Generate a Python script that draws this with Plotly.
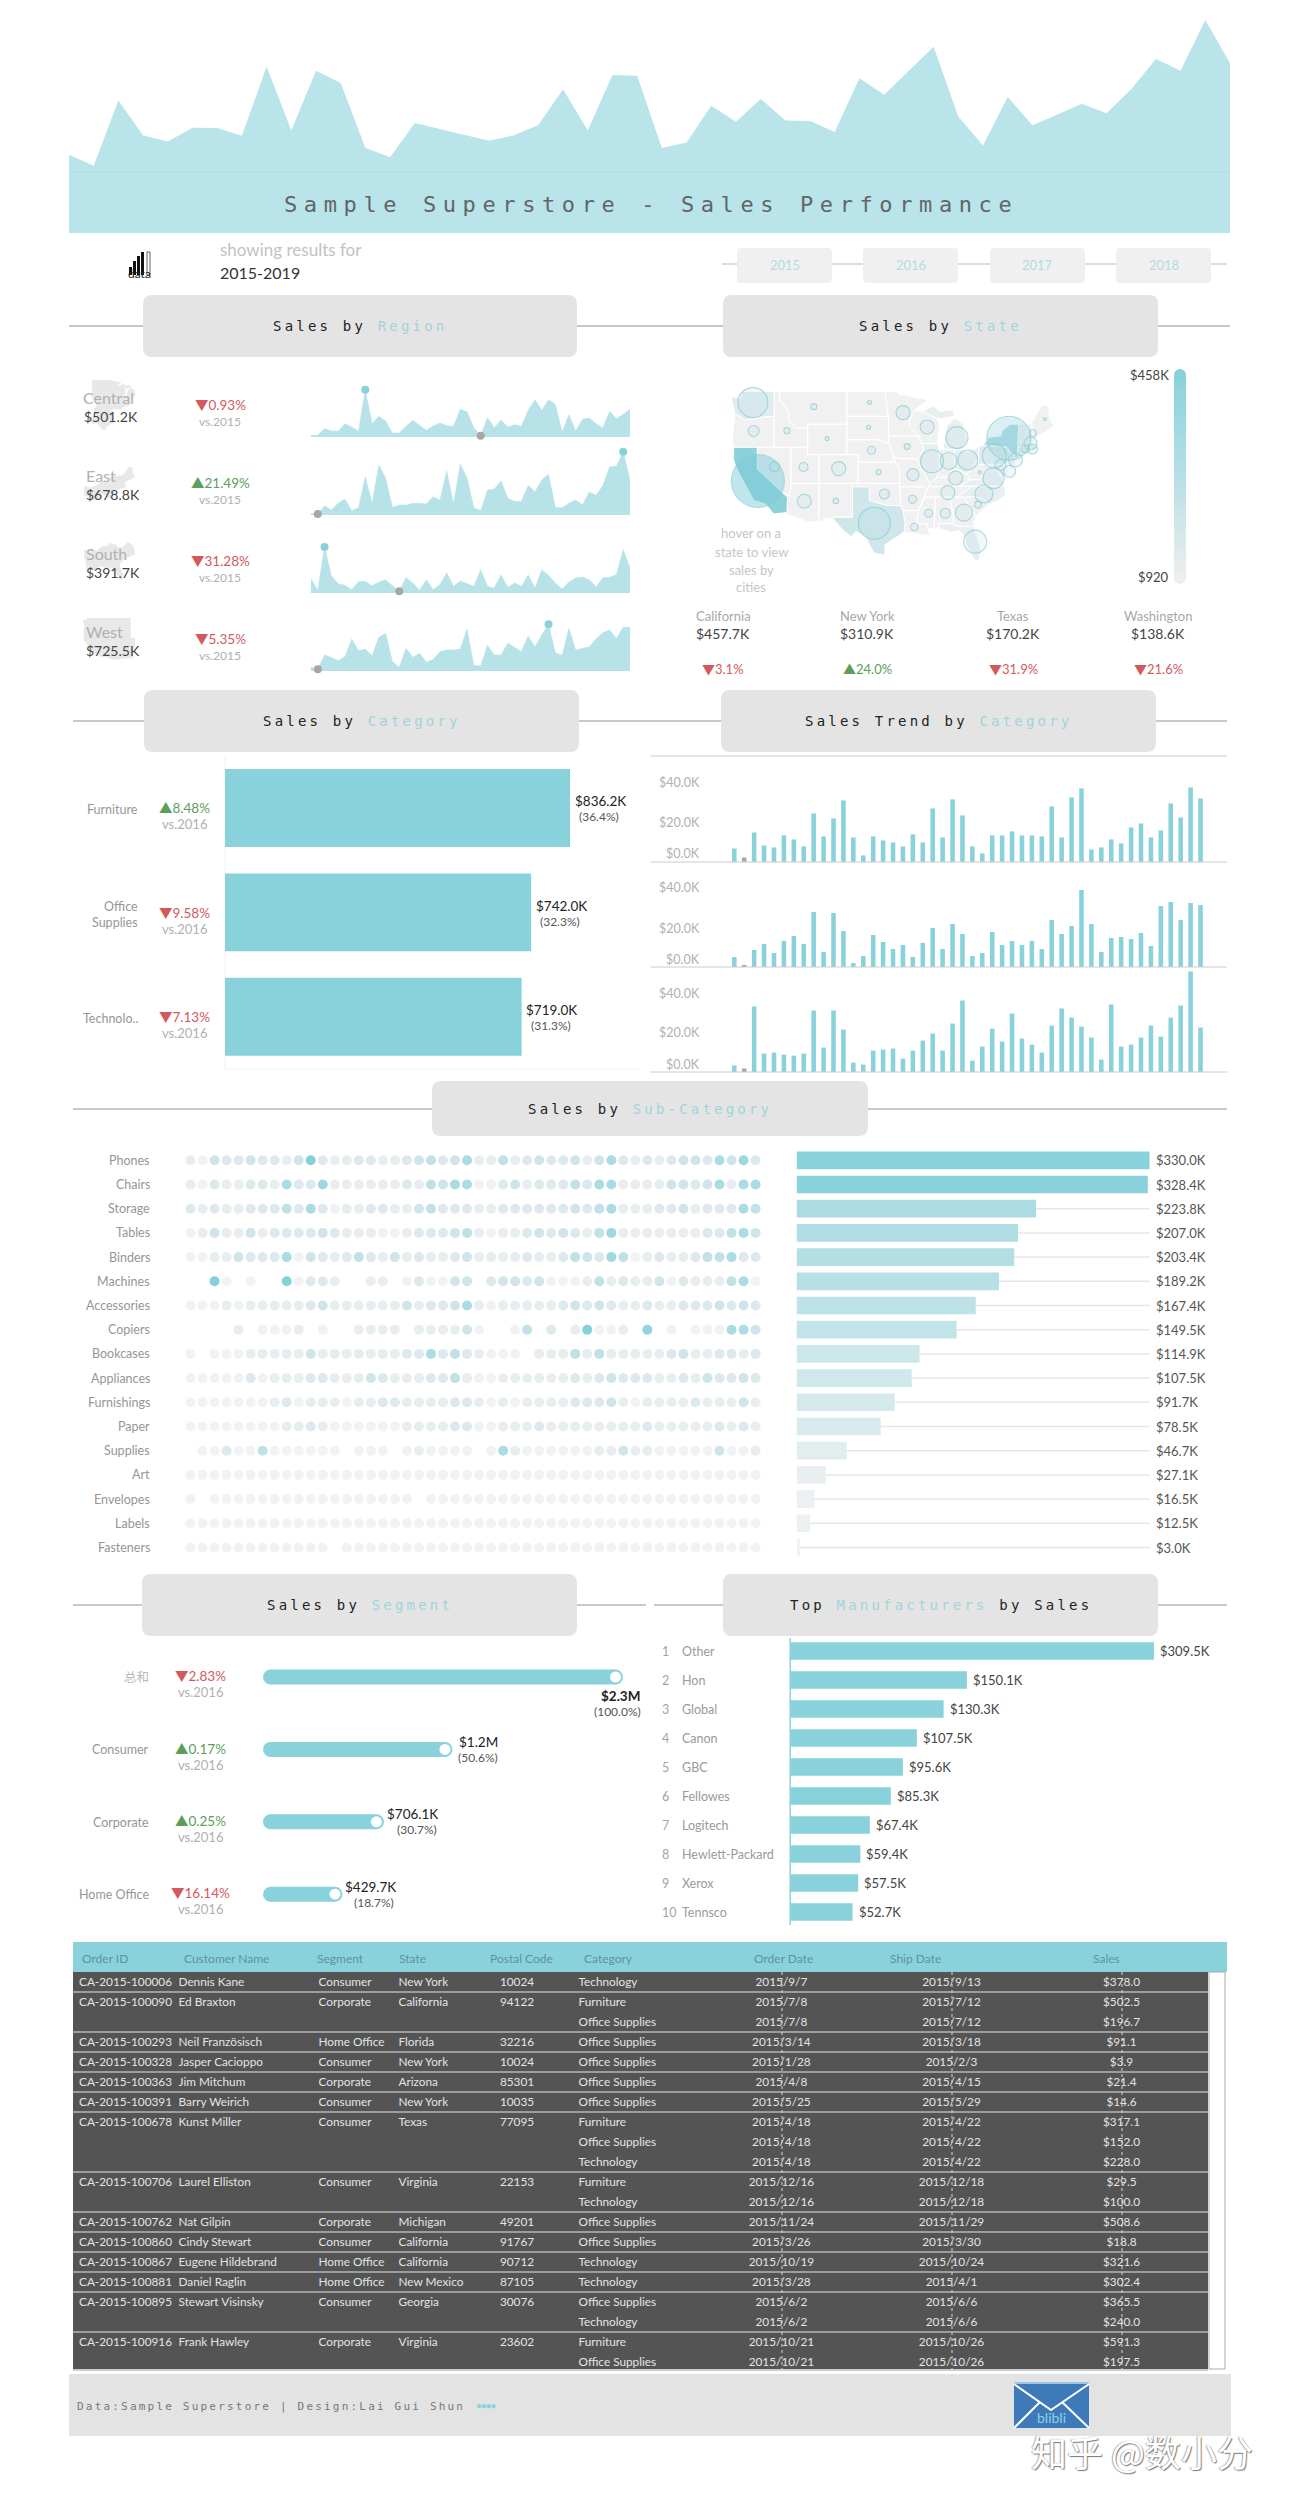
import numpy as np
import plotly.graph_objects as go

OX, OY = 8, 8
W, H = 1300 - OX, 2500 - OY
MAIN = "Lato, 'Noto Sans CJK SC', sans-serif"
MONO = "'DejaVu Sans Mono', monospace"
TEAL = "#8ad2db"
PALE = "#b9e4e9"
RED = "#d4595c"
GREEN = "#5c9e5c"
ACCENT = "#9fd4db"

# ---------- data ----------
months = list(range(48))
total_sales = [43.4,37.3,73.5,54.1,50.8,58.4,58.2,53.9,92.4,56.9,90.1,83.3,47.1,42.1,61.1,57.8,54.9,51.2,54.1,60.0,79.8,56.9,87.7,87.2,
               47.1,50.2,70.6,61.7,74.4,62.4,62.1,56.1,85.9,76.7,90.1,103.4,64.6,48.6,75.5,59.8,65.6,71.7,66.5,79.8,96.6,90.0,118.2,94.2]
central = [5,5,25,18,17,40,30,18,142,40,62,48,12,12,32,50,35,20,33,42,34,32,83,75,28,4,58,28,50,30,37,32,80,112,80,112,98,15,67,18,53,57,40,28,77,55,68,83]
east = [5,3,28,15,35,48,13,22,115,35,150,110,23,30,30,35,35,33,55,45,132,33,153,110,22,13,75,78,102,50,41,41,89,70,105,122,23,22,35,45,30,69,59,88,145,146,190,105]
south = [43,8,138,52,28,23,10,34,35,22,33,40,22,5,46,30,8,40,10,25,61,20,36,27,20,70,20,15,54,17,30,20,54,15,70,53,30,12,33,45,48,40,18,46,47,55,130,75]
west = [11,5,48,41,31,43,96,61,66,46,101,113,28,11,68,41,53,26,35,58,63,63,66,126,16,16,77,48,48,83,71,58,105,73,108,140,55,47,128,63,68,73,96,115,123,98,131,131]

region_names = ["Central", "East", "South", "West"]
region_sales = ["$501.2K", "$678.8K", "$391.7K", "$725.5K"]
region_pct = ["▼0.93%", "▲21.49%", "▼31.28%", "▼5.35%"]

states_top = ["California", "New York", "Texas", "Washington"]
states_top_sales = ["$457.7K", "$310.9K", "$170.2K", "$138.6K"]
states_top_pct = ["▼3.1%", "▲24.0%", "▼31.9%", "▼21.6%"]

categories = ["Furniture", "Office<br>Supplies", "Technolo.."]
category_sales = [836.2, 742.0, 719.0]
category_share = ["(36.4%)", "(32.3%)", "(31.3%)"]
category_pct = ["▲8.48%", "▼9.58%", "▼7.13%"]

trend_furniture = [6.7,2.3,14.8,8.3,7.3,13.3,11.3,7.8,24.3,12.8,21.8,30.8,12.3,3.3,12.8,10.8,9.8,7.8,13.8,9.8,26.8,12.3,31.3,23.3,
                   7.8,4.3,13.3,13.3,15.3,13.3,13.3,12.8,27.8,12.3,32.3,36.8,6.3,7.3,11.3,9.3,17.3,19.3,12.3,15.8,29.3,22.3,37.3,31.8]
trend_office = [5.0,1.0,8.5,11.5,7.0,13.0,15.5,11.5,27.5,7.5,27.0,18.0,2.0,5.5,16.0,12.5,9.0,11.0,5.0,12.0,19.5,9.0,21.5,16.5,
                5.5,7.0,17.5,11.0,13.0,11.0,13.0,9.0,23.5,16.5,20.5,38.5,21.5,7.5,14.5,15.0,14.0,17.0,10.5,30.5,32.5,23.5,32.0,31.0]
trend_tech = [3.2,1.7,32.7,9.2,9.7,8.7,8.2,9.2,30.7,12.2,30.7,21.2,4.7,3.7,10.7,11.2,11.7,6.7,10.7,15.7,19.2,10.7,24.2,35.7,
              5.7,12.7,21.7,15.2,29.2,16.7,13.7,9.7,23.2,31.7,27.2,22.7,17.2,6.2,33.7,12.7,13.7,17.2,23.2,17.7,27.2,33.2,50.2,22.2]

sub_names = ["Phones","Chairs","Storage","Tables","Binders","Machines","Accessories","Copiers","Bookcases","Appliances",
             "Furnishings","Paper","Supplies","Art","Envelopes","Labels","Fasteners"]
sub_sales = [330.0,328.4,223.8,207.0,203.4,189.2,167.4,149.5,114.9,107.5,91.7,78.5,46.7,27.1,16.5,12.5,3.0]
sub_labels = ["$330.0K","$328.4K","$223.8K","$207.0K","$203.4K","$189.2K","$167.4K","$149.5K","$114.9K","$107.5K",
              "$91.7K","$78.5K","$46.7K","$27.1K","$16.5K","$12.5K","$3.0K"]
phones = [2,1,4,3,3,4,3,3,2,4,9,3,2,2,3,3,2,2,3,4,5,3,4,6,2,2,5,2,3,4,3,3,4,2,4,6,3,2,3,2,3,4,4,3,6,4,7,3]
chairs = [2,1,3,2,2,3,3,2,6,3,3,7,2,2,2,2,2,2,3,2,5,4,6,6,1,1,3,4,2,3,3,3,5,3,6,6,2,2,2,2,4,4,3,4,6,2,6,6]
storage = [3,2,3,2,2,3,3,3,5,3,6,3,1,2,2,3,3,2,2,4,5,3,3,3,2,2,3,3,3,3,3,3,4,3,5,6,2,2,2,3,3,4,2,3,3,3,6,5]
tables = [1,2,4,2,2,4,2,3,3,3,3,4,3,2,2,2,1,1,2,3,3,3,4,5,2,1,2,2,3,4,3,4,3,2,5,7,2,2,2,2,2,2,2,3,3,5,6,4]
binders = [1,1,2,2,4,3,3,3,6,1,4,3,2,3,5,3,2,4,2,3,2,2,3,4,2,2,2,2,3,2,2,3,5,4,3,7,5,1,2,3,2,2,3,5,5,6,3,3]
machines = [0,0,9,1,0,1,0,0,9,1,3,3,2,0,0,2,2,0,1,3,1,1,4,4,0,3,4,4,3,4,1,1,1,2,5,2,3,2,2,4,1,3,2,2,2,5,6,1]
accessories = [1,1,1,2,1,2,2,2,2,2,3,4,2,2,2,2,2,2,4,2,3,3,4,6,2,1,2,2,2,2,2,3,4,3,4,3,2,2,3,2,2,3,3,3,4,3,4,3]
copiers = [0,0,0,0,2,0,1,1,1,2,0,1,0,0,2,2,2,2,0,2,2,2,2,4,1,0,0,1,5,0,3,0,2,9,1,1,2,0,8,0,1,0,1,1,1,6,6,4]
bookcases = [1,0,1,1,1,2,2,2,2,2,4,2,2,2,2,2,2,2,3,3,6,3,5,3,2,1,1,1,0,2,2,2,5,2,5,2,2,2,2,2,3,4,2,2,3,3,2,3]
appliances = [1,1,1,1,1,3,1,2,2,2,3,3,2,2,2,4,3,2,2,2,3,3,5,2,1,1,2,2,2,2,2,2,3,2,3,4,3,3,3,2,2,3,2,4,3,3,4,3]
furnishings = [1,1,1,1,1,1,1,2,3,1,2,2,2,1,2,2,3,3,2,2,2,2,3,3,2,1,2,1,2,2,2,2,3,3,3,4,2,1,2,2,2,2,3,2,2,2,4,2]
paper = [1,1,1,1,1,1,1,1,2,2,3,2,1,1,1,1,1,1,2,2,2,2,3,3,1,1,2,2,2,3,2,2,2,2,2,2,2,2,3,2,2,2,2,2,3,2,3,2]
supplies = [0,1,1,3,1,1,5,1,1,1,1,1,1,0,1,1,1,0,1,2,1,1,1,1,0,1,6,2,1,1,1,1,1,1,2,2,4,2,2,1,1,1,1,1,4,1,1,2]
art = [1,1,1,1,1,1,1,1,1,1,1,1,1,1,1,1,1,1,1,1,1,1,1,1,1,1,1,1,1,1,1,1,1,1,1,1,1,1,1,1,1,1,1,1,1,1,1,1]
envelopes = [1,0,1,1,1,1,1,1,1,1,1,1,1,1,1,1,1,1,1,0,1,1,1,1,1,1,1,1,1,1,1,1,1,1,1,1,1,1,1,1,1,1,1,1,1,1,1,1]
labels_row = [1,1,1,1,1,1,1,1,1,1,1,1,1,1,1,1,1,1,1,1,1,1,1,1,1,1,1,1,1,1,1,1,1,1,1,1,1,1,1,1,1,1,1,1,1,1,1,1]
fasteners = [1,1,1,1,1,1,1,1,1,1,1,1,0,1,1,1,1,1,1,1,1,1,1,1,1,1,1,1,1,1,1,1,1,1,1,1,1,1,1,1,1,1,1,1,1,1,1,1]
sub_matrix = [phones,chairs,storage,tables,binders,machines,accessories,copiers,bookcases,appliances,
              furnishings,paper,supplies,art,envelopes,labels_row,fasteners]

segments = ["总和", "Consumer", "Corporate", "Home Office"]
segment_sales = [2300, 1163, 706.1, 429.7]
segment_pct = ["▼2.83%", "▲0.17%", "▲0.25%", "▼16.14%"]

manufacturers = ["Other","Hon","Global","Canon","GBC","Fellowes","Logitech","Hewlett-Packard","Xerox","Tennsco"]
manufacturer_sales = [309.5,150.1,130.3,107.5,95.6,85.3,67.4,59.4,57.5,52.7]
manufacturer_labels = ["$309.5K","$150.1K","$130.3K","$107.5K","$95.6K","$85.3K","$67.4K","$59.4K","$57.5K","$52.7K"]

row_span = [1,2,1,1,1,1,3,2,1,1,1,1,2,2]
order_ids = ["CA-2015-100006","CA-2015-100090","CA-2015-100293","CA-2015-100328","CA-2015-100363","CA-2015-100391","CA-2015-100678",
             "CA-2015-100706","CA-2015-100762","CA-2015-100860","CA-2015-100867","CA-2015-100881","CA-2015-100895","CA-2015-100916"]
customers = ["Dennis Kane","Ed Braxton","Neil Französisch","Jasper Cacioppo","Jim Mitchum","Barry Weirich","Kunst Miller",
             "Laurel Elliston","Nat Gilpin","Cindy Stewart","Eugene Hildebrand","Daniel Raglin","Stewart Visinsky","Frank Hawley"]
cust_segment = ["Consumer","Corporate","Home Office","Consumer","Corporate","Consumer","Consumer","Consumer","Corporate","Consumer",
                "Home Office","Home Office","Consumer","Corporate"]
cust_state = ["New York","California","Florida","New York","Arizona","New York","Texas","Virginia","Michigan","California",
              "California","New Mexico","Georgia","Virginia"]
cust_postal = ["10024","94122","32216","10024","85301","10035","77095","22153","49201","91767","90712","87105","30076","23602"]
line_category = ["Technology","Furniture","Office Supplies","Office Supplies","Office Supplies","Office Supplies","Office Supplies",
                 "Furniture","Office Supplies","Technology","Furniture","Technology","Office Supplies","Office Supplies","Technology",
                 "Technology","Office Supplies","Technology","Furniture","Office Supplies"]
line_order_date = ["2015/9/7","2015/7/8","2015/7/8","2015/3/14","2015/1/28","2015/4/8","2015/5/25","2015/4/18","2015/4/18","2015/4/18",
                   "2015/12/16","2015/12/16","2015/11/24","2015/3/26","2015/10/19","2015/3/28","2015/6/2","2015/6/2","2015/10/21","2015/10/21"]
line_ship_date = ["2015/9/13","2015/7/12","2015/7/12","2015/3/18","2015/2/3","2015/4/15","2015/5/29","2015/4/22","2015/4/22","2015/4/22",
                  "2015/12/18","2015/12/18","2015/11/29","2015/3/30","2015/10/24","2015/4/1","2015/6/6","2015/6/6","2015/10/26","2015/10/26"]
line_sales = ["$378.0","$502.5","$196.7","$91.1","$3.9","$21.4","$14.6","$317.1","$152.0","$228.0","$29.5","$100.0","$508.6","$18.8",
              "$321.6","$302.4","$365.5","$240.0","$591.3","$197.5"]

# simplified state outlines, lon/lat
STATES = {
 "WA":[(-124.7,48.4),(-123,48.2),(-122.8,49),(-117,49),(-117,46),(-119,45.9),(-121,45.65),(-122.3,45.55),(-123.5,46.2),(-124,46.3)],
 "OR":[(-124,46.3),(-123.5,46.2),(-122.3,45.55),(-121,45.65),(-119,45.9),(-117,46),(-116.9,45),(-117,44.2),(-117,42),(-124.2,42),(-124.5,43)],
 "CA":[(-124.2,42),(-120,42),(-120,39),(-114.6,35),(-114.7,32.7),(-117.1,32.5),(-118.5,34),(-120.6,34.5),(-122.4,37.2),(-123.8,39.3),(-124.3,40.4)],
 "NV":[(-120,42),(-114,42),(-114,36.2),(-114.6,35),(-120,39)],
 "ID":[(-117,49),(-116,49),(-116,48),(-114.5,46.6),(-114.4,45.5),(-113,44.5),(-111,44.5),(-111,42),(-117,42),(-117,44.2),(-116.9,45),(-117,46)],
 "MT":[(-116,49),(-104,49),(-104,45),(-111,45),(-111,44.5),(-113,44.5),(-114.4,45.5),(-114.5,46.6),(-116,48)],
 "WY":[(-111,45),(-104,45),(-104,41),(-111,41)],
 "UT":[(-114,42),(-111,42),(-111,41),(-109,41),(-109,37),(-114,37)],
 "CO":[(-109,41),(-102,41),(-102,37),(-109,37)],
 "AZ":[(-114,37),(-109,37),(-109,31.3),(-111,31.3),(-114.8,32.5),(-114.7,32.7),(-114.6,35),(-114,36.2)],
 "NM":[(-109,37),(-103,37),(-103,32),(-106.6,32),(-106.5,31.8),(-108.2,31.8),(-108.2,31.3),(-109,31.3)],
 "ND":[(-104,49),(-97.2,49),(-96.6,46),(-104,46)],
 "SD":[(-104,46),(-96.6,46),(-96.5,42.5),(-98.5,43),(-104,43)],
 "NE":[(-104,43),(-98.5,43),(-96.5,42.5),(-95.3,40),(-102,40),(-102,41),(-104,41)],
 "KS":[(-102,40),(-95.3,40),(-94.6,39),(-94.6,37),(-102,37)],
 "OK":[(-103,37),(-94.6,37),(-94.4,33.7),(-97,33.8),(-100,34.5),(-100,36.5),(-103,36.5)],
 "TX":[(-106.6,32),(-103,32),(-103,36.5),(-100,36.5),(-100,34.5),(-97,33.8),(-94.4,33.7),(-94,33),(-93.6,31),(-93.8,29.7),(-95,29),(-97.2,27.7),(-97.2,26),(-99.2,26.4),(-100.7,29),(-102.4,29.8),(-103.2,29),(-104.7,30),(-106.5,31.8)],
 "MN":[(-97.2,49),(-95.2,49),(-94.6,48.7),(-92,48.3),(-89.6,48),(-92,46.7),(-92.8,45.5),(-92.8,44.7),(-91.2,43.5),(-96.5,43.5),(-96.5,45.3),(-96.6,46)],
 "IA":[(-96.5,43.5),(-91.2,43.5),(-90.2,41.8),(-91.4,40.4),(-95.8,40.6),(-96.5,42.5)],
 "MO":[(-95.8,40.6),(-91.4,40.4),(-90.7,39),(-90.2,38.5),(-89.2,37),(-89.7,36),(-90.3,36.5),(-94.6,36.5),(-94.6,39),(-95.3,40)],
 "AR":[(-94.6,36.5),(-90.3,36.5),(-89.7,36),(-91.2,33),(-94,33),(-94.4,33.7)],
 "LA":[(-94,33),(-91.2,33),(-91.6,31),(-89.7,31),(-89.5,30.2),(-89,29.2),(-91,29.3),(-93.8,29.7),(-93.6,31)],
 "WI":[(-92,46.7),(-90.5,46.6),(-88,45.8),(-87.5,45),(-87.8,42.5),(-90.6,42.5),(-91.2,43.5),(-92.8,44.7),(-92.8,45.5)],
 "IL":[(-90.6,42.5),(-87.8,42.5),(-87.5,41.7),(-87.5,39.3),(-88,37.8),(-89.2,37),(-90.2,38.5),(-90.7,39),(-91.4,40.4),(-90.2,41.8)],
 "MI":[(-86.8,41.76),(-84.8,41.7),(-83.5,41.7),(-82.5,43),(-82.9,44),(-83.4,45.1),(-84.8,45.8),(-86.2,44.7),(-86.5,43.5)],
 "UP":[(-90.5,46.6),(-88,45.8),(-87,45.7),(-84.8,46),(-85,46.8),(-87.5,46.6),(-88.5,47.3)],
 "IN":[(-87.5,41.7),(-84.8,41.7),(-84.8,39.1),(-86,38),(-88,37.8),(-87.5,39.3)],
 "OH":[(-84.8,41.7),(-83.5,41.7),(-82.5,41.4),(-80.5,42),(-80.5,40.6),(-81.7,39),(-82.6,38.4),(-84.8,39.1)],
 "KY":[(-89.2,37),(-88,37.8),(-86,38),(-84.8,39.1),(-82.6,38.4),(-82,37.5),(-83.7,36.6),(-89.5,36.5)],
 "TN":[(-90.1,35),(-89.5,36.5),(-83.7,36.6),(-81.7,36.6),(-84.3,35)],
 "MS":[(-91.2,33),(-90.1,35),(-88.2,35),(-88.4,30.3),(-89.5,30.2),(-89.7,31),(-91.6,31)],
 "AL":[(-88.2,35),(-85.6,35),(-85,32.3),(-85,31),(-87.6,31),(-87.5,30.3),(-88.4,30.3)],
 "GA":[(-85.6,35),(-83.1,35),(-81,32.1),(-81.4,30.7),(-82.1,30.5),(-84.9,30.7),(-85,32.3)],
 "FL":[(-87.6,31),(-85,31),(-84.9,30.7),(-82.1,30.5),(-81.4,30.7),(-80.5,28),(-80,26.8),(-80.4,25.2),(-81.2,25.2),(-82.7,27.8),(-83,29.1),(-84,30),(-85.3,29.7),(-87.5,30.3)],
 "SC":[(-83.1,35),(-81,35.1),(-79.7,34.8),(-78.6,33.9),(-81,32.1)],
 "NC":[(-84.3,35),(-81.7,36.6),(-75.9,36.6),(-75.6,35.3),(-77,34.5),(-78.6,33.9),(-79.7,34.8),(-81,35.1),(-83.1,35)],
 "VA":[(-83.7,36.6),(-75.9,36.6),(-76.3,37.9),(-77.1,38.8),(-78.3,39.4),(-80.3,37.5),(-82,37.5)],
 "WV":[(-82,37.5),(-80.3,37.5),(-78.3,39.4),(-79.5,39.7),(-80.5,39.7),(-80.5,40.6),(-81.7,39),(-82.6,38.4)],
 "MD":[(-79.5,39.7),(-75.8,39.7),(-75.1,38.4),(-76.3,37.9),(-77.1,38.8),(-78.3,39.4)],
 "DE":[(-75.8,39.8),(-75.4,39.8),(-75.1,38.5),(-75.7,38.5)],
 "PA":[(-80.5,42),(-79.8,42.3),(-75.4,42),(-74.8,41.3),(-75.2,39.9),(-75.8,39.7),(-80.5,39.7)],
 "NJ":[(-75.2,39.9),(-74.8,41.3),(-74,41),(-74,39.8),(-74.9,38.9)],
 "NY":[(-79.8,42.3),(-78.9,42.9),(-79,43.3),(-76.5,43.5),(-76.2,44.2),(-74.9,45),(-73.3,45),(-73.5,42.7),(-73.6,41),(-72,41),(-74,40.6),(-74,41),(-74.8,41.3),(-75.4,42)],
 "CT":[(-73.6,42),(-71.8,42),(-71.8,41.3),(-73.6,41)],
 "RI":[(-71.8,42),(-71.3,42),(-71.2,41.5),(-71.8,41.3)],
 "MA":[(-73.5,42.7),(-71.3,42.7),(-70.7,42.6),(-70,41.7),(-71.2,41.5),(-71.3,42),(-73.6,42)],
 "VT":[(-73.3,45),(-71.5,45),(-72.4,42.7),(-73.5,42.7)],
 "NH":[(-71.5,45),(-71,45.2),(-70.7,43),(-70.7,42.6),(-72.4,42.7)],
 "ME":[(-71,45.2),(-70.3,46),(-69.2,47.4),(-68,47.3),(-67.8,45.7),(-67,44.8),(-70.7,43)],
}
state_shades = {"#8dd1db":["CA"],"#b0dde3":["NY"],"#cfe7eb":["TX"],"#e0edf0":["WA","PA"],"#e8eff1":["FL","IL","OH","MI","UP","VA","NC"]}
region_states = {
 "Central":["ND","SD","NE","KS","OK","TX","MN","IA","MO","WI","IL","IN","MI","UP"],
 "East":["OH","PA","NY","NJ","DE","MD","WV","CT","RI","MA","VT","NH","ME"],
 "South":["AR","LA","MS","AL","GA","FL","SC","NC","VA","KY","TN"],
 "West":["WA","OR","CA","NV","ID","MT","WY","UT","CO","AZ","NM"],
}
bubble_lon = [-120.79,-120.64,-114.72,-109.9,-99.97,-107.53,-100.12,-93.97,-89.68,-84.35,-99.6,-93.23,-119.9,-116.94,-111.75,-105.46,-98.35,-92.2,
              -88.79,-85.83,-82.42,-75.09,-77.68,-70.79,-71.23,-72.12,-70.86,-73.9,-76.57,-74.94,-77.83,-80.27,-84.57,-85.97,-79.53,-80.57,-83.09,
              -86.42,-89.38,-91.97,-92.27,-97.31,-99.09,-111.6,-105.97,-81.09,-68.64]
bubble_merc = [54.38,49.29,49.35,53.66,54.44,47.92,49.95,52.58,50.01,48.1,45.82,46.48,40.32,42.89,42.83,42.53,41.87,41.45,
               43.85,43.91,44.09,47.98,44.8,48.87,47.08,46.06,46.06,44.09,43.19,42.05,40.79,41.87,40.85,38.22,37.98,36.07,34.63,
               34.51,34.51,32.06,37.02,37.98,32.72,36.67,36.73,29.42,51.39]
bubble_size = [30,11,6,6,4,4,4,14,14,22,8,6,53,10,9,14,5,12,23,17,20,44,24,7,13,8,10,14,11,12,21,3,14,14,18,7,17,10,8,7.5,8,10,32,14,5.4,23,3]

# ---------- helpers ----------
layout_axes = {}
axis_count = [0]
def new_axes(x0, x1, y0, y1, xr, yr):
    axis_count[0] += 1
    n = axis_count[0]
    s = "" if n == 1 else str(n)
    dx = [max(0, (x0 - OX) / W), min(1, (x1 - OX) / W)]
    dy = [max(0, 1 - (y1 - OY) / H), min(1, 1 - (y0 - OY) / H)]
    layout_axes["xaxis" + s] = dict(domain=dx, range=xr, visible=False, anchor="y" + s, fixedrange=True)
    layout_axes["yaxis" + s] = dict(domain=dy, range=yr, visible=False, anchor="x" + s, fixedrange=True)
    return "x" + s, "y" + s

PAGE = new_axes(OX, 1300, OY, 2500, [OX, 1300], [2500, OY])
fig = go.Figure()
anns, shapes = [], []

def t(x, y, text, size=13, color="#777", anchor="center", family=MAIN):
    anns.append(dict(x=x, y=y, xref=PAGE[0], yref=PAGE[1], text=text, showarrow=False, xanchor=anchor, yanchor="middle",
                     font=dict(size=size, color=color, family=family), align="right" if anchor == "right" else ("left" if anchor == "left" else "center")))

def rect(x0, y0, x1, y1, fill, layer="below", line=None):
    shapes.append(dict(type="rect", xref=PAGE[0], yref=PAGE[1], x0=x0, y0=y0, x1=x1, y1=y1, fillcolor=fill, layer=layer,
                       line=dict(width=1 if line else 0, color=line or fill)))

def hline(x0, x1, y, color="#c8c8c8", width=2, layer="below", dash="solid"):
    shapes.append(dict(type="line", xref=PAGE[0], yref=PAGE[1], x0=x0, x1=x1, y0=y, y1=y, layer=layer, line=dict(color=color, width=width, dash=dash)))

def vline(x, y0, y1, color="#c8c8c8", width=1, layer="below", dash="solid"):
    shapes.append(dict(type="line", xref=PAGE[0], yref=PAGE[1], x0=x, x1=x, y0=y0, y1=y1, layer=layer, line=dict(color=color, width=width, dash=dash)))

def rrect(x0, y0, x1, y1, r, fill):
    p = (f"M{x0+r},{y0} L{x1-r},{y0} Q{x1},{y0} {x1},{y0+r} L{x1},{y1-r} Q{x1},{y1} {x1-r},{y1} "
         f"L{x0+r},{y1} Q{x0},{y1} {x0},{y1-r} L{x0},{y0+r} Q{x0},{y0} {x0+r},{y0} Z")
    shapes.append(dict(type="path", xref=PAGE[0], yref=PAGE[1], path=p, fillcolor=fill, layer="below", line=dict(width=0)))

def spaced(s, sp, color=None):
    c = f"color:{color};" if color else ""
    return f'<span style="{c}letter-spacing:{sp}px">{s}</span>'

def section(x0, x1, y0, y1, parts, cy):
    rrect(x0, y0, x1, y1, 9, "#e4e4e4")
    txt = "".join(spaced(s, 3.2, c) for s, c in parts)
    t((x0 + x1) / 2, cy, txt, size=14, color="#222", family=MONO)

def merc(lat):
    return np.degrees(np.log(np.tan(np.pi / 4 + np.radians(lat) / 2)))

def poly_xy(names):
    xs, ys = [], []
    for n in names:
        pts = STATES[n]
        xs += [p[0] for p in pts] + [pts[0][0], None]
        ys += [float(merc(p[1])) for p in pts] + [float(merc(pts[0][1])), None]
    return xs, ys

def pct_color(s):
    return GREEN if s.startswith("▲") else RED

# ---------- banner ----------
rect(69, 172, 1230, 233, PALE)
ax = new_axes(69, 1230, 20, 233, [0, 47], [0, 118.2])
fig.add_trace(go.Scatter(x=months, y=total_sales, mode="lines", fill="tozeroy", line=dict(color=PALE, width=0), fillcolor=PALE, xaxis=ax[0], yaxis=ax[1], hoverinfo="skip"))
hline(69, 1230, 172, "#aedde3", 1, layer="above")
t(651, 204, spaced("Sample Superstore - Sales Performance", 6.6), size=22, color="#626567", family=MONO)

# selector row
for bx0, bh, bw in [(129, 8, 3), (133, 14, 3), (137, 19, 3), (141, 23, 3)]:
    rect(bx0, 275 - bh, bx0 + bw, 275, "#111")
rect(147, 252, 150, 275, "#ffffff", line="#666")
t(139, 273, "data", size=12, color="#222")
t(218, 249, "showing results for", size=17, color="#c2c2c2", anchor="left")
t(218, 272, "2015-2019", size=16, color="#333", anchor="left")
hline(722, 1227, 264, "#d0d0d0", 1.5)
for x0, label in [(737, "2015"), (863, "2016"), (990, "2017"), (1116, "2018")]:
    rrect(x0, 248, x0 + 95, 283, 4, "#f0f0f0")
    t(x0 + 47.5, 265, label, size=13, color="#b2dce1")

# section rules and headers
hline(69, 1230, 326)
hline(73, 1227, 721)
hline(73, 1227, 1109)
hline(73, 646, 1605)
hline(654, 1227, 1605)
section(143, 577, 295, 357, [("Sales by ", None), ("Region", ACCENT)], 326)
section(723, 1158, 295, 357, [("Sales by ", None), ("State", ACCENT)], 326)
section(144, 579, 690, 752, [("Sales by ", None), ("Category", ACCENT)], 721)
section(721, 1156, 690, 752, [("Sales Trend by ", None), ("Category", ACCENT)], 721)
section(432, 868, 1081, 1136, [("Sales by ", None), ("Sub-Category", ACCENT)], 1109)
section(142, 577, 1574, 1636, [("Sales by ", None), ("Segment", ACCENT)], 1605)
section(723, 1158, 1574, 1636, [("Top ", None), ("Manufacturers", ACCENT), (" by Sales", None)], 1605)

# ---------- regions ----------
silhouettes = {
 "Central": ((87, 135.6, 380, 430), [-106.6, -82.4], [float(merc(26)), float(merc(49))]),
 "East": ((84, 135, 467, 503), [-84.8, -67], [float(merc(36.5)), float(merc(47.5))]),
 "South": ((84, 135, 542, 580), [-94.6, -75.6], [float(merc(25)), float(merc(39.5))]),
 "West": ((83, 135, 618, 660), [-124.7, -102], [float(merc(31)), float(merc(49))]),
}
spark_series = [central, east, south, west]
for i, name in enumerate(region_names):
    base = 437 + 78 * i
    box, xr, yr = silhouettes[name]
    a = new_axes(box[0], box[1], box[2], box[3], xr, yr)
    xs, ys = poly_xy(region_states[name])
    fig.add_trace(go.Scatter(x=xs, y=ys, mode="lines", fill="toself", fillcolor="#e8e8e8", line=dict(color="#e8e8e8", width=0.5), xaxis=a[0], yaxis=a[1], hoverinfo="skip"))
    lx = 81 if i == 0 else 84
    t(lx, 397 + 78 * i, name, size=16, color="#b0b0b0", anchor="left")
    t(lx + 1 if i == 0 else lx, 416 + 78 * i, region_sales[i], size=14, color="#444", anchor="left")
    t(220, 405 + 78 * i, region_pct[i], size=13.5, color=pct_color(region_pct[i]))
    t(220, 421 + 78 * i, "vs.2015", size=12, color="#b0b0b0")
    vals = spark_series[i]
    a = new_axes(311, 630, base - 70, base, [0, 47], [0, 210])
    fig.add_trace(go.Scatter(x=months, y=vals, mode="lines", fill="tozeroy", fillcolor="#b6e2e8", line=dict(color="#b6e2e8", width=0.5), xaxis=a[0], yaxis=a[1], hoverinfo="skip"))
    imax, imin = int(np.argmax(vals)), int(np.argmin(vals))
    fig.add_trace(go.Scatter(x=[imax, imin], y=[vals[imax], vals[imin]], mode="markers", cliponaxis=False,
                             marker=dict(size=8, color=[TEAL, "#aaa6a6"]), xaxis=a[0], yaxis=a[1], hoverinfo="skip"))

# ---------- map ----------
a = new_axes(720, 1070, 380, 570, [-126.66, -64.16], [24.33, 58.44])
shaded = [s for v in state_shades.values() for s in v]
others = [s for s in STATES if s not in shaded]
xs, ys = poly_xy(others)
fig.add_trace(go.Scatter(x=xs, y=ys, mode="lines", fill="toself", fillcolor="#f1f1f1", line=dict(color="#ffffff", width=1), xaxis=a[0], yaxis=a[1], hoverinfo="skip"))
for col, names in state_shades.items():
    xs, ys = poly_xy(names)
    fig.add_trace(go.Scatter(x=xs, y=ys, mode="lines", fill="toself", fillcolor=col, line=dict(color="#ffffff", width=1), xaxis=a[0], yaxis=a[1], hoverinfo="skip"))
fig.add_trace(go.Scatter(x=bubble_lon, y=bubble_merc, mode="markers", cliponaxis=False,
                         marker=dict(size=bubble_size, sizemode="diameter", color=["rgba(125,205,216,0.7)" if s > 50 else ("rgba(135,205,216,0.42)" if s > 40 else "rgba(170,215,222,0.22)") for s in bubble_size],
                                     line=dict(color="#86cbd4", width=1.1)), xaxis=a[0], yaxis=a[1], hoverinfo="skip"))
for i, line in enumerate(["hover on a", "state to view", "sales by", "cities"]):
    t(751, [533, 552, 570, 587][i], line, size=13, color="#c6c6c6")

a = new_axes(1174, 1186, 375, 578, [0, 1], [0, 1])
fig.add_trace(go.Heatmap(x=[0, 1], y=[0, 1], z=[[920, 920], [458000, 458000]], zsmooth="best", showscale=False,
                         colorscale=[[0, "#eeeeee"], [0.5, "#b5e0e6"], [1, TEAL]], xaxis=a[0], yaxis=a[1], hoverinfo="skip"))
fig.add_trace(go.Scatter(x=[0.5, 0.5], y=[1, 0], mode="markers", cliponaxis=False, marker=dict(size=12, color=[TEAL, "#eeeeee"]), xaxis=a[0], yaxis=a[1], hoverinfo="skip"))
t(1171, 375, "$458K", size=13, color="#444", anchor="right")
t(1171, 577, "$920", size=13, color="#444", anchor="right")

for cx, n, s, p in zip([723, 867, 1013, 1158], states_top, states_top_sales, states_top_pct):
    t(cx, 616, n, size=13, color="#a8a8a8")
    t(cx, 633, s, size=14, color="#444")
    t(cx, 669, p, size=13, color=pct_color(p))

# ---------- category ----------
vline(225, 755, 1069, "#f1f1f1", 1)
hline(225, 640, 1069, "#f1f1f1", 1)
a = new_axes(225, 640, 755, 1069, [0, 1005.8], [2.5, -0.507])
fig.add_trace(go.Bar(x=category_sales, y=[0, 1, 2], orientation="h", width=0.746, marker=dict(color=TEAL, line=dict(width=0)), xaxis=a[0], yaxis=a[1], hoverinfo="skip"))
cat_y = [808, 913, 1017]
for i, cy in enumerate(cat_y):
    label_x = 225 + category_sales[i] * 0.4126 + 30
    t(140, cy + 1, categories[i], size=12.5, color="#969696", anchor="right")
    t(184.5, cy, category_pct[i], size=13.5, color=pct_color(category_pct[i]))
    t(184.5, cy + 16, "vs.2016", size=13, color="#b0b0b0")
    t(label_x, cy - 7, f"${category_sales[i]:.1f}K", size=13.5, color="#222")
    t(label_x - 1, cy + 8, category_share[i], size=12, color="#555")

# ---------- trend ----------
hline(650.5, 1227, 756, "#cccccc", 1)
trend_rows = [(trend_furniture, 862, (782, 822, 853)), (trend_office, 967, (887, 928, 959)), (trend_tech, 1072, (993, 1032, 1064))]
for vals, base, lab in trend_rows:
    a = new_axes(650.5, 1227, base - 102, base, [-8.45, 49.67], [0, 51])
    cols = [TEAL] * 48
    cols[1] = "#aaa6a6"
    fig.add_trace(go.Bar(x=months, y=vals, width=0.46, marker=dict(color=cols, line=dict(width=0)), xaxis=a[0], yaxis=a[1], hoverinfo="skip"))
    hline(650.5, 1227, base, "#cccccc", 1, layer="above")
    for ly, s in zip(lab, ["$40.0K", "$20.0K", "$0.0K"]):
        t(702, ly, s, size=12.5, color="#b0b0b0", anchor="right")

# ---------- sub-category ----------
a = new_axes(180, 770, 1146, 1562, [-0.874, 48.2], [16.6, -0.591])
dx, dy, dc = [], [], []
for r, row in enumerate(sub_matrix):
    for c, v in enumerate(row):
        if v > 0:
            dx.append(c); dy.append(r); dc.append(v)
dot_ramp = [[0, "#f0f2f3"], [0.125, "#e8edef"], [0.25, "#dde9ec"], [0.375, "#cfe5e9"], [0.5, "#c0e1e6"], [0.625, "#aadce3"], [0.75, "#9fd8e0"], [1, "#86d0da"]]
fig.add_trace(go.Scatter(x=dx, y=dy, mode="markers", marker=dict(size=10, color=dc, cmin=1, cmax=9, colorscale=dot_ramp, line=dict(width=0)),
                         xaxis=a[0], yaxis=a[1], hoverinfo="skip"))
a = new_axes(790, 1230, 1146, 1562, [-6.36, 405.3], [16.6, -0.591])
lx, ly = [], []
for r, v in enumerate(sub_sales):
    lx += [v, 330, None]; ly += [r, r, None]
fig.add_trace(go.Scatter(x=lx, y=ly, mode="lines", line=dict(color="#e6e6e6", width=1.5), xaxis=a[0], yaxis=a[1], hoverinfo="skip"))
fig.add_trace(go.Bar(x=sub_sales, y=list(range(17)), orientation="h", width=0.73,
                     marker=dict(color=sub_sales, cmin=0, cmax=330, colorscale=[[0, "#f1f2f3"], [1, TEAL]], line=dict(width=0)), xaxis=a[0], yaxis=a[1], hoverinfo="skip"))
for r, (n, s) in enumerate(zip(sub_names, sub_labels)):
    y = 1160.3 + 24.2 * r
    t(152, y, n, size=12.5, color="#969696", anchor="right")
    t(1154, y, s, size=13, color="#555", anchor="left")

# ---------- segment ----------
seg_ys = [1677, 1749.5, 1822, 1894]
a = new_axes(250, 650, 1660, 1915, [-136.7, 2530], [3.287, -0.235])
sx, sy = [], []
for r, v in enumerate(segment_sales):
    sx += [0, v, None]; sy += [r, r, None]
fig.add_trace(go.Scatter(x=sx, y=sy, mode="lines+markers", line=dict(color=TEAL, width=15), marker=dict(size=15, color=TEAL), xaxis=a[0], yaxis=a[1], hoverinfo="skip", cliponaxis=False))
fig.add_trace(go.Scatter(x=segment_sales, y=[0, 1, 2, 3], mode="markers", marker=dict(size=11, color="#ffffff"), xaxis=a[0], yaxis=a[1], hoverinfo="skip", cliponaxis=False))
seg_val = ["$2.3M", "$1.2M", "$706.1K", "$429.7K"]
seg_share = ["(100.0%)", "(50.6%)", "(30.7%)", "(18.7%)"]
seg_val_xy = [(620, 1696), (478, 1742), (412.5, 1814), (370, 1887)]
seg_share_xy = [(617, 1711), (477.6, 1757), (416.7, 1829), (374, 1902)]
for i, cy in enumerate(seg_ys):
    t(151, cy, segments[i], size=12.5, color="#b8b8b8" if i == 0 else "#969696", anchor="right")
    t(200.7, cy - 1, segment_pct[i], size=13.5, color=pct_color(segment_pct[i]))
    t(200.7, cy + 15, "vs.2016", size=13, color="#b0b0b0")
    t(seg_val_xy[i][0], seg_val_xy[i][1], ("<b>%s</b>" % seg_val[i]) if i == 0 else seg_val[i], size=13.5, color="#222")
    t(seg_share_xy[i][0], seg_share_xy[i][1], seg_share[i], size=12, color="#555")

# ---------- manufacturers ----------
a = new_axes(785, 1230, 1638, 1925, [-4.86, 374.3], [9.448, -0.448])
fig.add_trace(go.Bar(x=manufacturer_sales, y=list(range(10)), orientation="h", width=0.61, marker=dict(color=TEAL, line=dict(width=0)), xaxis=a[0], yaxis=a[1], hoverinfo="skip"))
vline(790.2, 1638, 1925, TEAL, 1.5, layer="above")
for i, n in enumerate(manufacturers):
    y = 1651 + 29 * i
    t(660, y, str(i + 1), size=12.5, color="#a4a4a4", anchor="left")
    t(680, y, n, size=12.5, color="#9a9a9a", anchor="left")
    t(790.7 + manufacturer_sales[i] * 1.1737 + 4, y, manufacturer_labels[i], size=13, color="#444", anchor="left")

# ---------- table ----------
rect(73, 1942, 1227, 1972, TEAL)
rect(73, 1972, 1208, 2369, "#545454")
rect(1209, 1972, 1225, 2369, "#ffffff", line="#aaaaaa")
for k in [1, 3, 4, 5, 6, 7, 10, 12, 13, 14, 15, 16, 18]:
    hline(73, 1208, 1972 + 20 * k, "#e6e6e6", 1.2)
hline(73, 1208, 2370, "#bdbdbd", 1.5)
headers = [("Order ID", 79.6, "left"), ("Customer Name", 182.4, "left"), ("Segment", 315, "left"), ("State", 397, "left"), ("Postal Code", 521.6, "center"),
           ("Category", 581.6, "left"), ("Order Date", 783.5, "center"), ("Ship Date", 915.7, "center"), ("Sales", 1106, "center")]
for h, x, an in headers:
    t(x, 1958, h, size=12, color="#5d939b", anchor=an)

def expand(values):
    out = []
    for v, s in zip(values, row_span):
        out += [v] + [""] * (s - 1)
    return out

a = new_axes(73, 1208, 1973.5, 2373.5, [73, 1208], [19.5, -0.5])
line_idx = list(range(20))
table_columns = [(expand(order_ids), 79, "middle right"), (expand(customers), 178.5, "middle right"), (expand(cust_segment), 318.5, "middle right"),
                 (expand(cust_state), 398.5, "middle right"), (expand(cust_postal), 517, "middle center"), (line_category, 578.5, "middle right"),
                 (line_order_date, 781.4, "middle center"), (line_ship_date, 951.5, "middle center"), (line_sales, 1121.5, "middle center")]
for col, x, pos in table_columns:
    fig.add_trace(go.Scatter(x=[x] * 20, y=line_idx, text=col, mode="text", textposition=pos, cliponaxis=False,
                             textfont=dict(size=11.8, color="#e4e4e4", family=MAIN), xaxis=a[0], yaxis=a[1], hoverinfo="skip"))
for x in [782, 952, 1122]:
    vline(x, 1972, 2380, "#d8d8d8", 1, layer="above", dash="dot")

# ---------- footer ----------
rect(69, 2374, 1231, 2436, "#e3e3e3")
t(75, 2406, spaced("Data:Sample Superstore | Design:Lai Gui Shun", 2.2), size=11, color="#777", anchor="left", family=MONO)
t(475, 2406, spaced("●●●●", 0.5), size=7, color="#8ad2db", anchor="left", family=MONO)
rect(1014, 2382, 1089, 2428, "#3f7ab8", layer="above")
hline(1014, 1089, 2383, "#9cc6e6", 2, layer="above")
for p in ["M1014,2384 L1051,2410 L1089,2384", "M1014,2428 L1040,2402", "M1089,2428 L1062,2402"]:
    shapes.append(dict(type="path", xref=PAGE[0], yref=PAGE[1], path=p, layer="above", line=dict(color="#ffffff", width=2)))
t(1051, 2417, "blibli", size=14, color="#8fd0ea")
anns.append(dict(x=1142, y=2451, xref=PAGE[0], yref=PAGE[1], text="知乎 @数小分", showarrow=False, xanchor="center", yanchor="middle",
                 font=dict(size=36, color="#ffffff", family="'Noto Sans CJK SC', sans-serif", shadow="1px 1px 1px #777777, -1px 0 1px #aaaaaa")))

fig.update_layout(width=W, height=H, margin=dict(l=0, r=0, t=0, b=0), showlegend=False, paper_bgcolor="#ffffff", plot_bgcolor="rgba(0,0,0,0)",
                  annotations=anns, shapes=shapes, barmode="overlay", **layout_axes)
fig.write_html("out.html", config=dict(displayModeBar=False))
